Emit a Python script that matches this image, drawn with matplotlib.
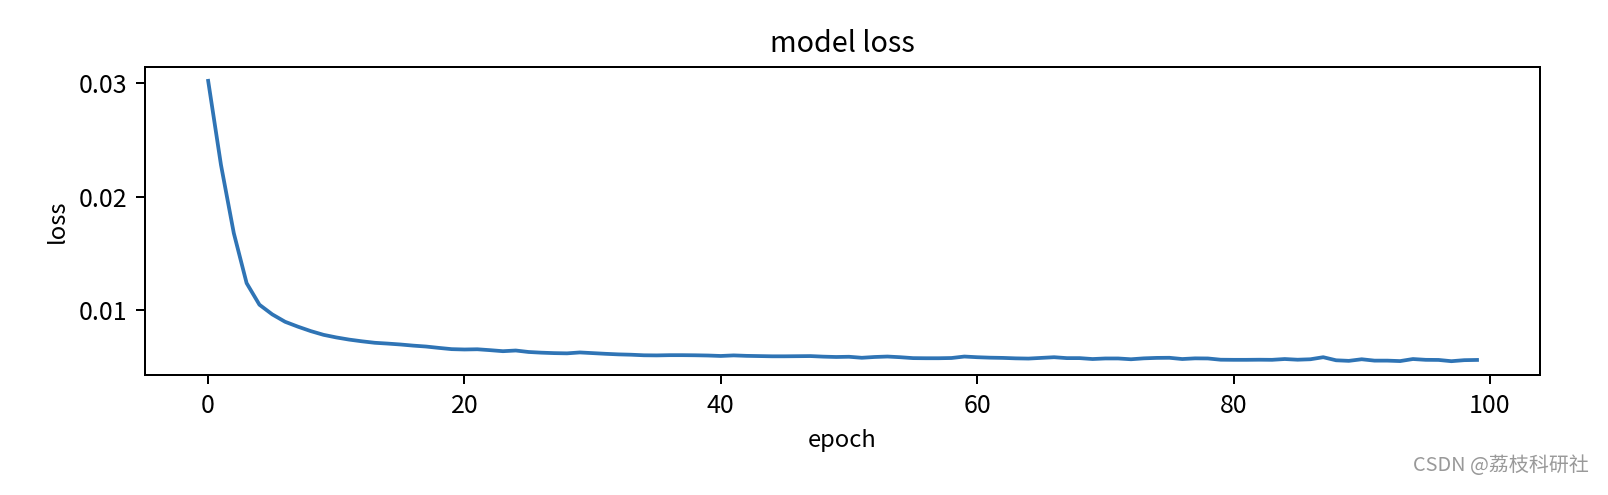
import matplotlib
matplotlib.use("Agg")
import matplotlib.pyplot as plt
import numpy as np

plt.rcParams['font.family'] = ['Noto Sans CJK SC', 'DejaVu Sans']
plt.rcParams['axes.unicode_minus'] = False

title = "model loss"
xlabel = "epoch"
ylabel = "loss"
watermark = "CSDN @荔枝科研社"

loss = [
    0.03020, 0.02280, 0.01680, 0.01240, 0.01050, 0.00965, 0.00900, 0.00857, 0.00818, 0.00785,
    0.00762, 0.00743, 0.00728, 0.00715, 0.00708, 0.00700, 0.00690, 0.00682, 0.00670, 0.00659,
    0.00656, 0.00658, 0.00650, 0.00641, 0.00647, 0.00634, 0.00628, 0.00624, 0.00622, 0.00630,
    0.00624, 0.00618, 0.00613, 0.00610, 0.00605, 0.00604, 0.00606, 0.00606, 0.00605, 0.00603,
    0.00599, 0.00604, 0.00600, 0.00598, 0.00596, 0.00596, 0.00597, 0.00598, 0.00593, 0.00590,
    0.00592, 0.00583, 0.00590, 0.00594, 0.00588, 0.00580, 0.00579, 0.00579, 0.00581, 0.00594,
    0.00588, 0.00584, 0.00582, 0.00578, 0.00576, 0.00582, 0.00588, 0.00580, 0.00580, 0.00572,
    0.00577, 0.00577, 0.00570, 0.00578, 0.00582, 0.00583, 0.00572, 0.00578, 0.00577, 0.00566,
    0.00565, 0.00565, 0.00566, 0.00565, 0.00572, 0.00566, 0.00570, 0.00588, 0.00561, 0.00556,
    0.00570, 0.00558, 0.00558, 0.00554, 0.00572, 0.00565, 0.00564, 0.00553, 0.00562, 0.00564,
]
epochs = np.arange(len(loss))

fig = plt.figure(figsize=(1608 / 180, 495 / 180), dpi=180)
ax = fig.add_axes([0.090, 0.242, 0.868, 0.623])
ax.plot(epochs, loss, color='#2f74b5', linewidth=1.5)
ax.set_title(title, fontsize=11.5)
ax.set_xlabel(xlabel, fontsize=9.5)
ax.set_ylabel(ylabel, fontsize=9.5)
ax.set_xticks([0, 20, 40, 60, 80, 100])
ax.set_yticks([0.01, 0.02, 0.03])
ax.tick_params(labelsize=10)

fig.text(0.988, 0.06, watermark, ha='right', va='center', fontsize=8, color='#999999')

fig.savefig("out.png", dpi=180)
